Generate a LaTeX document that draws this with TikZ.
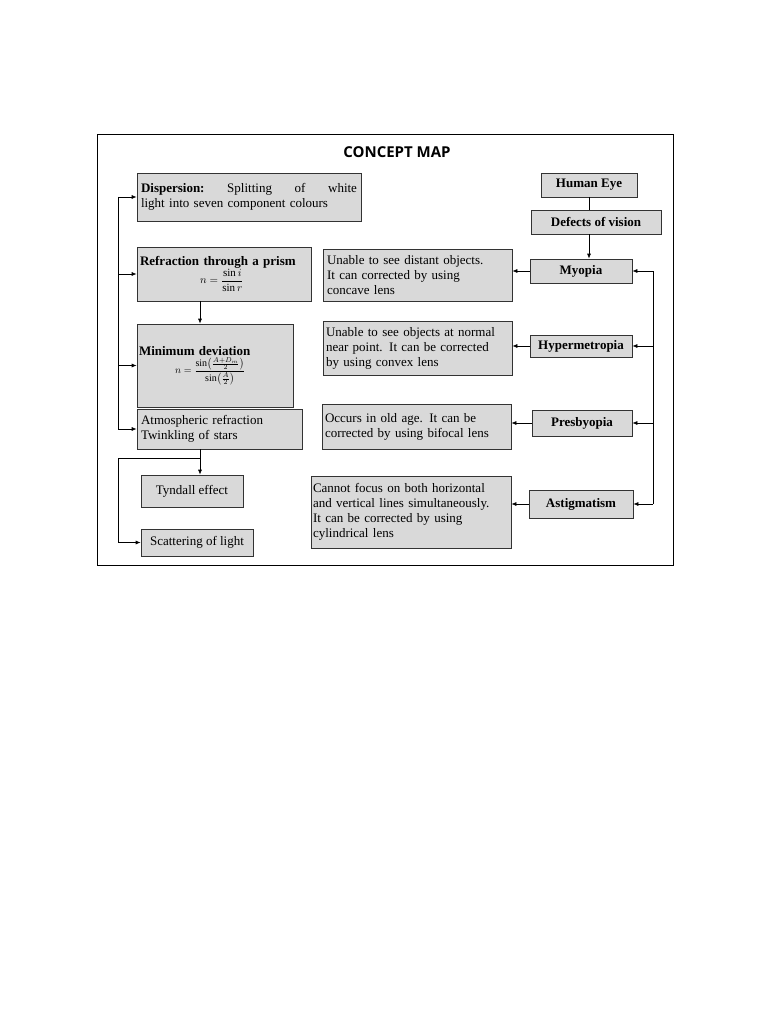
\documentclass[tikz,border=0pt]{standalone}
\usepackage{fontspec}
\usepackage{amsmath}
\setmainfont{Liberation Serif}
\newfontfamily\titlefont{Open Sans}
\usetikzlibrary{arrows.meta}
\begin{document}
\begin{tikzpicture}[x=1pt,y=1pt,
  bx/.style={draw=black!80,fill=black!15,line width=0.7pt,inner sep=3pt,font=\fontsize{13}{15}\selectfont},
  bb/.style={bx,font=\bfseries\fontsize{13}{15}\selectfont},
  arr/.style={-{Latex[length=5pt,width=4pt]},line width=0.7pt},
  ln/.style={line width=0.7pt}]
\useasboundingbox (0,0) rectangle (768,-1024);
\draw[line width=0.8pt] (97,-134) rectangle (673,-565);
\node[font=\titlefont\bfseries\fontsize{15}{16}\selectfont] (title) at (397,-152) {CONCEPT MAP};
% left boxes
\node[bx,minimum width=224,minimum height=48,text width=216,align=left] (disp) at (249,-197) {\textbf{Dispersion:}\hfill Splitting\hfill of\hfill white\\light into seven component colours};
\node[bx,minimum width=174,minimum height=54,text width=168,align=left,inner sep=2pt] (refr) at (224,-274) {\textbf{Refraction through a prism}\\[-1pt] \hspace*{60pt}\fontsize{11}{12}\selectfont$n=\dfrac{\sin i}{\sin r}$};
\node[bx,minimum width=156,minimum height=83,text width=152,align=left,inner sep=1pt] (mind) at (215,-365.5) {\textbf{Minimum deviation}\\[1pt]\hspace*{36pt}\fontsize{10}{11}\selectfont$n=\dfrac{\sin\!\left(\frac{A+D_m}{2}\right)}{\sin\!\left(\frac{A}{2}\right)}$};
\node[bx,minimum width=165,minimum height=40,text width=157,align=left] (atm) at (219.5,-429) {Atmospheric refraction\\Twinkling of stars};
\node[bx,minimum width=102,minimum height=32] (tyn) at (192,-491) {Tyndall effect};
\node[bx,minimum width=112,minimum height=27] (scat) at (197,-542.5) {Scattering of light};
% right column
\node[bb,minimum width=96,minimum height=24] (eye) at (589,-185) {Human Eye};
\node[bb,minimum width=130,minimum height=24] (def) at (596,-222) {Defects of vision};
\node[bb,minimum width=102,minimum height=24] (myo) at (581,-271) {Myopia};
\node[bb,minimum width=102,minimum height=22] (hyp) at (581,-346) {Hypermetropia};
\node[bb,minimum width=100,minimum height=26] (pres) at (582,-423) {Presbyopia};
\node[bb,minimum width=104,minimum height=28] (ast) at (581,-504) {Astigmatism};
% texts
\node[bx,minimum width=189,minimum height=52,text width=181,align=left] (t1) at (417.5,-275) {Unable to see distant objects.\\It can corrected by using\\concave lens};
\node[bx,minimum width=189,minimum height=54,text width=183,align=left,inner sep=2pt] (t2) at (417.5,-348) {Unable to see objects at normal\\near point. It can be corrected\\by using convex lens};
\node[bx,minimum width=189,minimum height=45,text width=183,align=left,inner sep=2pt] (t3) at (416.5,-426.5) {Occurs in old age. It can be\\corrected by using bifocal lens};
\node[bx,minimum width=200,minimum height=72,text width=196,align=left,inner sep=2pt] (t4) at (411,-512) {Cannot focus on both horizontal\\and vertical lines simultaneously.\\It can be corrected by using\\cylindrical lens};
% left bus
\coordinate (lb1) at (118,-197);
\coordinate (lb2) at (118,-429);
\draw[ln] (lb1) -- (lb2);
\draw[arr] (lb1) -- (disp.west);
\draw[arr] (118,-274) -- (refr.west);
\draw[arr] (118,-365.5) -- (mind.west);
\draw[arr] (lb2) -- (atm.west);
\draw[arr] (refr.south -| 200,0) -- (mind.north -| 200,0);
\draw[arr] (atm.south -| 200,0) -- (tyn.north -| 200,0);
\coordinate (s1) at (200,-458);
\coordinate (s2) at (118,-458);
\coordinate (s3) at (118,-542.5);
\draw[ln] (s1) -- (s2) -- (s3);
\draw[arr] (s3) -- (scat.west);
% right
\draw[ln] (eye.south -| 589,0) -- (def.north -| 589,0);
\draw[arr] (def.south -| 589,0) -- (myo.north -| 589,0);
\coordinate (rb1) at (653,-271);
\coordinate (rb2) at (653,-504);
\draw[ln] (rb1) -- (rb2);
\draw[arr] (rb1) -- (myo.east);
\draw[arr] (653,-346) -- (hyp.east);
\draw[arr] (653,-423) -- (pres.east);
\draw[arr] (rb2) -- (ast.east);
\draw[arr] (myo.west) -- (t1.east |- myo.west);
\draw[arr] (hyp.west) -- (t2.east |- hyp.west);
\draw[arr] (pres.west) -- (t3.east |- pres.west);
\draw[arr] (ast.west) -- (t4.east |- ast.west);
\end{tikzpicture}
\end{document}
